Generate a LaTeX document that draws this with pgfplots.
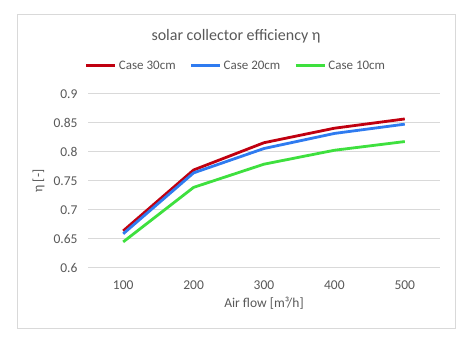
\documentclass[border=0pt]{standalone}
\usepackage{pgfplots}
\pgfplotsset{compat=1.18}
\usepackage{fontspec}
\setmainfont{Carlito}
\definecolor{txt}{HTML}{595959}
\definecolor{gridc}{HTML}{D9D9D9}
\definecolor{cred}{HTML}{C00010}
\definecolor{cblue}{HTML}{2F7BF0}
\definecolor{cgreen}{HTML}{3EE03E}
\begin{document}
\begin{tikzpicture}[x=1pt,y=1pt]
\useasboundingbox (0,0) rectangle (474,347);
\fill[white] (0,0) rectangle (474,347);
\draw[gridc, line width=1pt] (17,18) rectangle (455,332);
\node[txt, font=\fontsize{16}{18}\selectfont] at (236,311) {solar collector efficiency η};
\begin{axis}[
  at={(88pt,79pt)}, anchor=south west,
  scale only axis, width=352pt, height=174pt,
  xmin=50, xmax=550, ymin=0.6, ymax=0.9,
  xtick={100,200,300,400,500},
  ytick={0.6,0.65,0.7,0.75,0.8,0.85,0.9},
  yticklabels={0.6,0.65,0.7,0.75,0.8,0.85,0.9},
  xticklabels={100,200,300,400,500},
  ymajorgrids, xmajorgrids=false, grid style={draw=gridc, line width=1pt},
  axis line style={draw=none},
  axis x line*=bottom,
  x axis line style={draw=gridc, line width=1pt},
  tick style={draw=none},
  major tick length=0pt,
  ticklabel style={txt, font=\fontsize{13.5}{15}\selectfont},
  /pgf/number format/assume math mode=true,
  xticklabel style={yshift=-9pt},
  yticklabel style={xshift=-7pt},
  xlabel={Air flow [m³/h]},
  ylabel={η [-]},
  label style={txt, font=\fontsize{13.5}{15}\selectfont},
  xlabel style={yshift=-1pt},
  ylabel style={yshift=2pt},
  legend style={at={(236pt-88pt,281pt-79pt)}, anchor=center, legend columns=3, draw=none, fill=none,
    font=\fontsize{13}{15}\selectfont, text=txt,
    /tikz/every even column/.append style={column sep=12pt},
    /tikz/every odd column/.append style={inner xsep=0.5pt}},
  legend cell align=left,
  legend image code/.code={\draw[#1, line width=3pt] (0pt,0pt) -- (29pt,0pt);},
]
\addplot[cred, line width=2.8pt] coordinates {(100,0.664) (200,0.769) (300,0.816) (400,0.841) (500,0.857)};
\addplot[cblue, line width=2.8pt] coordinates {(100,0.659) (200,0.764) (300,0.806) (400,0.832) (500,0.848)};
\addplot[cgreen, line width=2.8pt] coordinates {(100,0.645) (200,0.739) (300,0.779) (400,0.803) (500,0.818)};
\legend{Case 30cm, Case 20cm, Case 10cm}
\end{axis}
\end{tikzpicture}
\end{document}
